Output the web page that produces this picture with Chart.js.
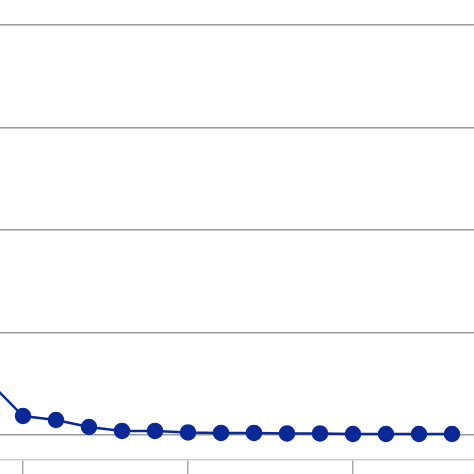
<!DOCTYPE html>
<html>
<head>
<script src="https://cdn.jsdelivr.net/npm/chart.js@4"></script>
<style>html,body{margin:0;padding:0;background:#fff}</style>
</head>
<body>
<div style="width:474px;height:474px"><canvas id="myChart"></canvas></div>
<script>
var steps = [0, 1, 2, 3, 4, 5, 6, 7, 8, 9, 10, 11, 12, 13, 14];
var values = [0.51, 0.185, 0.146, 0.078, 0.04, 0.04, 0.025, 0.02, 0.02, 0.015, 0.015, 0.01, 0.01, 0.01, 0.01];
var yTicks = [0, 1, 2, 3, 4];
var xTicks = [1, 6, 11];

var points = [];
for (var i = 0; i < steps.length; i++) {
    points.push({x: steps[i], y: values[i]});
}

var ctx = document.getElementById("myChart").getContext("2d");
new Chart(ctx, {
    type: 'line',
    data: {
        datasets: [{
            data: points,
            borderColor: '#0a2896',
            backgroundColor: '#0a2896',
            borderWidth: 2.5,
            pointRadius: 7,
            pointHoverRadius: 7,
            tension: 0
        }]
    },
    options: {
        responsive: true,
        maintainAspectRatio: false,
        animation: false,
        layout: {padding: 0, autoPadding: false},
        plugins: {legend: {display: false}, tooltip: {enabled: false}},
        scales: {
            x: {
                type: 'linear',
                min: 0.303,
                max: 14.667,
                afterBuildTicks: function(s) { s.ticks = xTicks.map(function(v){ return {value: v}; }); },
                afterFit: function(s) { s.height = 14; },
                ticks: {display: false},
                grid: {drawOnChartArea: false, tickLength: 14, color: '#aaa', lineWidth: 1.5},
                border: {color: '#ccc', width: 1.5}
            },
            y: {
                min: -0.244,
                max: 4.244,
                afterBuildTicks: function(s) { s.ticks = yTicks.map(function(v){ return {value: v}; }); },
                afterFit: function(s) { s.width = 0; },
                ticks: {display: false},
                grid: {color: '#999', lineWidth: 1.5, drawTicks: false},
                border: {display: false}
            }
        }
    }
});
</script>
</body>
</html>
